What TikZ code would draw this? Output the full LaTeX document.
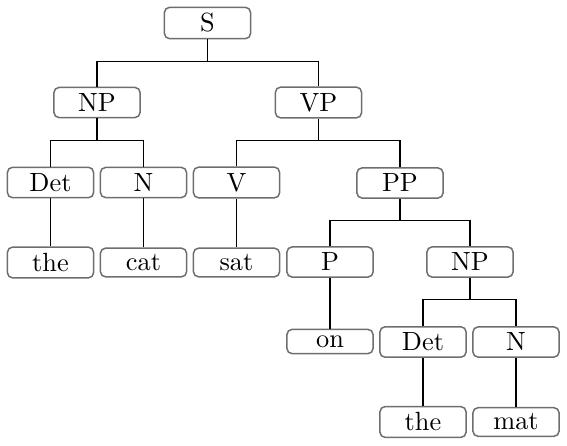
\documentclass[tikz,border=0pt]{standalone}
\begin{document}
\begin{tikzpicture}[x=0.38pt,y=-0.38pt,
  tbox/.style={draw={rgb,255:red,110;green,110;blue,110}, line width=0.57pt, rounded corners=1.9pt,
    minimum width=32.7pt, inner ysep=2.3pt, inner xsep=2pt, font=\normalsize},
  edge/.style={draw=black, line width=0.45pt}]
\useasboundingbox (0,0) rectangle (567,446);
\node[tbox] (S) at (207.5,23) {S};
\node[tbox] (NP1) at (97,102.5) {NP};
\node[tbox] (VP) at (318.5,102.5) {VP};
\node[tbox] (Det1) at (50.5,182.5) {Det};
\node[tbox] (N1) at (143.5,182.5) {N};
\node[tbox] (V) at (236.5,182.5) {V};
\node[tbox] (PP) at (400,183) {PP};
\node[tbox] (the1) at (50.5,262.5) {the};
\node[tbox] (cat) at (143.5,262.5) {cat};
\node[tbox] (sat) at (236.5,262.5) {sat};
\node[tbox] (P) at (330,262) {P};
\node[tbox] (NP2) at (470,262) {NP};
\node[tbox] (on) at (330,341.5) {on};
\node[tbox] (Det2) at (423,342) {Det};
\node[tbox] (N2) at (516,342) {N};
\node[tbox] (the2) at (423,422) {the};
\node[tbox] (mat) at (516,422) {mat};
\foreach \p/\a/\b in {S/NP1/VP,NP1/Det1/N1,VP/V/PP,PP/P/NP2,NP2/Det2/N2}{
  \draw[edge] (\p.south) -- ++(0,22) coordinate (fk-\p);
  \draw[edge] (\a.north) |- (fk-\p) -| (\b.north);
}
\foreach \p/\c in {Det1/the1,N1/cat,V/sat,P/on,Det2/the2,N2/mat}
  \draw[edge] (\p.south) -- (\c.north);
\end{tikzpicture}
\end{document}
